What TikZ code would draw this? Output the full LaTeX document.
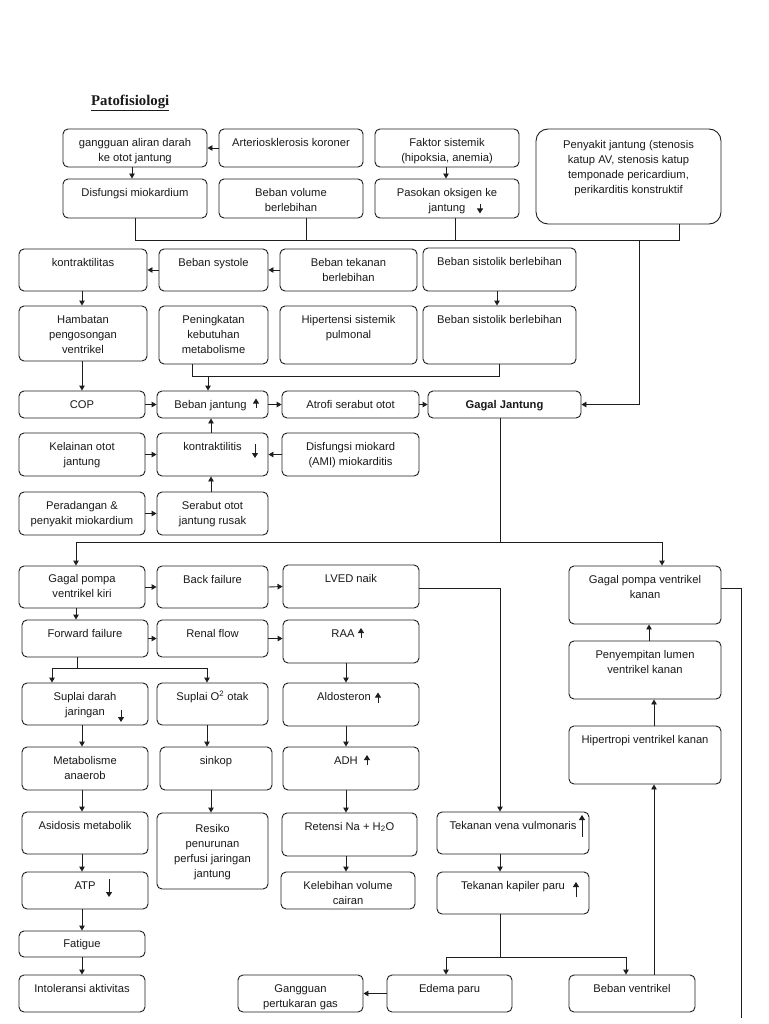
\documentclass[tikz,border=0pt]{standalone}
\usepackage{fontspec}
\setmainfont{Liberation Sans}
\newfontfamily\titlefont{Liberation Serif}
\usetikzlibrary{arrows.meta}
\definecolor{lncol}{HTML}{1E1E1E}
\definecolor{txcol}{HTML}{1A1A1A}
\tikzset{
  box/.style={draw=lncol, line width=0.9pt, rounded corners=5pt, inner sep=0pt},
  txt/.style={inner sep=0pt, align=center, text=txcol, font=\fontsize{11.2}{15}\selectfont},
  wire/.style={draw=lncol, line width=0.9pt},
  arr/.style={draw=lncol, line width=0.9pt, -{Triangle[length=5pt,width=5.5pt]}},
  sarr/.style={draw=lncol, line width=0.9pt, -{Triangle[length=5pt,width=6pt]}},
  pics/uarr/.style={code={\draw[sarr] (0pt,{-#1pt/2}) -- (0pt,{#1pt/2});}},
  pics/darr/.style={code={\draw[sarr] (0pt,{#1pt/2}) -- (0pt,{-#1pt/2});}},
}
\newcommand\bx[7][]{%
  \node[box, minimum width={(#5-#3)*1pt}, minimum height={(#6-#4)*1pt}] (#2) at ({(#3+#5)/2},{(#4+#6)/2}) {};
  \node[txt, anchor=north, #1] (#2t) at ([yshift=-7pt]#2.north) {\strut #7};
}
\begin{document}
\begin{tikzpicture}[x=1pt,y=-1pt]
\fill[white] (0,0) rectangle (768,1024);
\useasboundingbox (0,0) rectangle (768,1024);

\node[font=\titlefont\bfseries\fontsize{14.8}{16}\selectfont, anchor=base west, inner sep=0pt, text=txcol] (title) at (91,106) {\underline{Patofisiologi}};

% ---- top cluster
\bx{gang}{63}{129}{207}{167}{gangguan aliran darah\\ke otot jantung}
\bx{arter}{219}{129}{363}{167}{Arteriosklerosis koroner}
\bx{faktor}{375}{129}{519}{167}{Faktor sistemik\\(hipoksia, anemia)}
\node[box, rounded corners=12pt, minimum width=185pt, minimum height=95pt] (peny) at (628.5,176.5) {};
\node[txt, anchor=north, yshift=-2.5pt] (penyt) at ([yshift=-7pt]peny.north) {\strut Penyakit jantung (stenosis\\katup AV, stenosis katup\\temponade pericardium,\\perikarditis konstruktif};
\bx{disf}{63}{179}{207}{218}{Disfungsi miokardium}
\bx{bevol}{219}{179}{363}{218}{Beban volume\\berlebihan}
\bx{pasok}{375}{179}{519}{218}{Pasokan oksigen ke\\jantung}
\pic at (480,209) {darr=9};

% ---- middle cluster
\bx{kontr}{19}{249}{147}{291}{kontraktilitas}
\bx{bsys}{159}{249}{268}{291}{Beban systole}
\bx{btek}{280}{249}{417}{291}{Beban tekanan\\berlebihan}
\bx{bsis1}{423}{248}{576}{291}{Beban sistolik berlebihan}
\bx{hamb}{19}{306}{147}{361}{Hambatan\\pengosongan\\ventrikel}
\bx{pening}{159}{306}{268}{364}{Peningkatan\\kebutuhan\\metabolisme}
\bx{hiperts}{280}{306}{417}{364}{Hipertensi sistemik\\pulmonal}
\bx{bsis2}{423}{306}{576}{364}{Beban sistolik berlebihan}
\bx{cop}{19}{391}{145}{418}{COP}
\bx[xshift=-2pt]{bj}{157}{391}{268}{418}{Beban jantung}
\pic at (256,403) {uarr=9};
\bx{atrofi}{282}{391}{419}{418}{Atrofi serabut otot}
\bx{gagal}{428}{391}{581}{418}{\textbf{Gagal Jantung}}
\bx{kel}{19}{433}{145}{476}{Kelainan otot\\jantung}
\bx{kontr2}{157}{433}{268}{476}{kontraktilitis}
\pic at (255,451) {darr=14};
\bx{dism}{282}{433}{419}{476}{Disfungsi miokard\\(AMI) miokarditis}
\bx{per}{19}{492}{145}{535}{Peradangan \&\\penyakit miokardium}
\bx{serab}{157}{492}{268}{535}{Serabut otot\\jantung rusak}

% ---- lower cluster
\bx[yshift=1pt]{gkiri}{19}{566}{145}{608}{Gagal pompa\\ventrikel kiri}
\bx{back}{157}{566}{268}{608}{Back failure}
\bx{lved}{283}{565}{419}{608}{LVED naik}
\bx{gkanan}{569}{566}{721}{624}{Gagal pompa ventrikel\\kanan}
\bx{fwd}{22}{620}{148}{657}{Forward failure}
\bx{renal}{157}{620}{268}{657}{Renal flow}
\bx[xshift=-8pt]{raa}{283}{620}{419}{663}{RAA}
\pic at (361,633) {uarr=10};
\bx{supd}{22}{683}{148}{725}{Suplai darah\\jaringan}
\pic at (121,716) {darr=12};
\bx{supo}{157}{683}{268}{725}{Suplai O\textsuperscript{2} otak}
\bx[xshift=-7pt]{aldo}{283}{683}{419}{726}{Aldosteron}
\pic at (378,697.5) {uarr=10};
\bx{penyl}{569}{641}{721}{699}{Penyempitan lumen\\ventrikel kanan}
\bx{meta}{22}{747}{148}{790}{Metabolisme\\anaerob}
\bx{sinkop}{160}{747}{272}{790}{sinkop}
\bx[xshift=-5pt]{adh}{283}{747}{419}{790}{ADH}
\pic at (367,760) {uarr=10};
\bx{hiper}{569}{726}{721}{784}{Hipertropi ventrikel kanan}
\bx{asid}{22}{812}{148}{854}{Asidosis metabolik}
\bx[yshift=-2.5pt]{resiko}{157}{813}{268}{889}{Resiko\\penurunan\\perfusi jaringan\\jantung}
\bx{ret}{282}{813}{417}{856}{Retensi Na + H\textsubscript{2}O}
\bx{tvena}{437}{812}{589}{854}{Tekanan vena vulmonaris}
\pic at (582,826) {uarr=22};
\bx{atp}{22}{872}{148}{909}{ATP}
\pic at (109,888) {darr=18};
\bx{kelv}{281}{872}{415}{909}{Kelebihan volume\\cairan}
\bx{tkap}{437}{872}{589}{914}{Tekanan kapiler paru}
\pic at (576,889.5) {uarr=15};
\bx[yshift=1pt]{fat}{19}{931}{145}{957}{Fatigue}
\bx{into}{19}{975}{145}{1012}{Intoleransi aktivitas}
\bx{gang2}{238}{975}{363}{1012}{Gangguan\\pertukaran gas}
\bx{edema}{387}{975}{512}{1012}{Edema paru}
\bx{bvent}{569}{975}{695}{1012}{Beban ventrikel}

% ---- column coordinates
\coordinate (cA) at (82,0);
\coordinate (cB1) at (207,0);
\coordinate (cB2) at (211,0);
\coordinate (cC) at (346,0);
\coordinate (cD) at (500,0);
\coordinate (cE) at (654,0);
\coordinate (cF) at (649,0);

% ---- top connectors
\draw[arr] (arter.west) -- (gang.east);
\draw[arr] ([xshift=-3pt]gang.south) -- ([xshift=-3pt]disf.north);
\draw[arr] ([xshift=-1pt]faktor.south) -- ([xshift=-1pt]pasok.north);
\coordinate (b1L) at (135,240);
\coordinate (b1R) at (679,240);
\coordinate (b1J) at (639,240);
\draw[wire] (disf.south) -- (b1L) -- (b1R) -- ([xshift=50.5pt]peny.south);
\draw[wire] ([xshift=15pt]bevol.south) -- ([xshift=15pt]bevol.south |- b1L);
\draw[wire] ([xshift=8pt]pasok.south) -- ([xshift=8pt]pasok.south |- b1L);
\draw[arr] (b1J) |- (gagal.east);

% ---- middle connectors
\draw[arr] (bsys.west) -- (kontr.east);
\draw[arr] (btek.west) -- (bsys.east);
\draw[arr] ([xshift=-2.5pt]bsis1.south) -- ([xshift=-2.5pt]bsis2.north);
\draw[arr] ([xshift=-1pt]kontr.south) -- ([xshift=-1pt]hamb.north);
\draw[arr] (hamb.south -| cA) -- (cop.north -| cA);
\coordinate (b2L) at (192,376);
\coordinate (b2J) at (208,376);
\draw[wire] ([xshift=-21.5pt]pening.south) -- (b2L) -| (bsis2.south);
\draw[arr] (b2J) -- (b2J |- bj.north);
\draw[arr] (cop.east) -- (bj.west);
\draw[arr] (bj.east) -- (atrofi.west);
\draw[arr] (atrofi.east) -- (gagal.west);
\draw[arr] (kel.east) -- (kontr2.west);
\draw[arr] (dism.west) -- (kontr2.east);
\draw[arr] (kontr2.north -| cB2) -- (bj.south -| cB2);
\draw[arr] (serab.north -| cB2) -- (kontr2.south -| cB2);
\draw[arr] (per.east) -- (serab.west);

% ---- split from Gagal Jantung
\coordinate (b3L) at (76,542);
\coordinate (b3R) at (662,542);
\draw[wire] ([xshift=-4.5pt]gagal.south) -- ([xshift=-4.5pt]gagal.south |- b3L);
\draw[arr] (b3R) -- (b3L) -- (b3L |- gkiri.north);
\draw[arr] (b3R) -- (b3R |- gkanan.north);

% ---- lower left connectors
\draw[arr] (gkiri.east) -- (back.west);
\draw[arr] (back.east) -- (lved.west);
\draw[arr] ([yshift=-1.5pt]lved.east) -| (cD |- tvena.north);
\draw[arr] ([xshift=-6pt]gkiri.south) -- ([xshift=-6pt]gkiri.south |- fwd.north);
\draw[arr] (fwd.east) -- (renal.west);
\draw[arr] (renal.east) -- (renal.east -| raa.west);
\coordinate (b4L) at (52,668);
\coordinate (b4R) at (207,668);
\draw[wire] ([xshift=-8pt]fwd.south) -- ([xshift=-8pt]fwd.south |- b4L);
\draw[arr] (b4R) -- (b4L) -- (b4L |- supd.north);
\draw[arr] (b4R) -- (b4R |- supo.north);
\draw[arr] (raa.south -| cC) -- (aldo.north -| cC);
\draw[arr] (aldo.south -| cC) -- (adh.north -| cC);
\draw[arr] (adh.south -| cC) -- (ret.north -| cC);
\draw[arr] (ret.south -| cC) -- (kelv.north -| cC);
\draw[arr] (supd.south -| cA) -- (meta.north -| cA);
\draw[arr] (meta.south -| cA) -- (asid.north -| cA);
\draw[arr] (asid.south -| cA) -- (atp.north -| cA);
\draw[arr] (atp.south -| cA) -- (fat.north -| cA);
\draw[arr] (fat.south -| cA) -- (into.north -| cA);
\draw[arr] (supo.south -| cB1) -- (sinkop.north -| cB1);
\draw[arr] (sinkop.south -| cB2) -- (resiko.north -| cB2);

% ---- lower right connectors
\draw[arr] (tvena.south -| cD) -- (tkap.north -| cD);
\coordinate (b5L) at (446,957);
\coordinate (b5R) at (626,957);
\draw[wire] (tkap.south -| cD) -- (cD |- b5L);
\draw[arr] (b5R) -- (b5L) -- (b5L |- edema.north);
\draw[arr] (b5R) -- (b5R |- bvent.north);
\draw[arr] (edema.west) -- (gang2.east);
\draw[arr] (bvent.north -| cE) -- (hiper.south -| cE);
\draw[arr] (hiper.north -| cE) -- (penyl.south -| cE);
\draw[arr] (penyl.north -| cF) -- (gkanan.south -| cF);
\coordinate (endR) at (741,1018);
\draw[wire] ([yshift=7pt]gkanan.east) -| (endR);
\end{tikzpicture}
\end{document}
